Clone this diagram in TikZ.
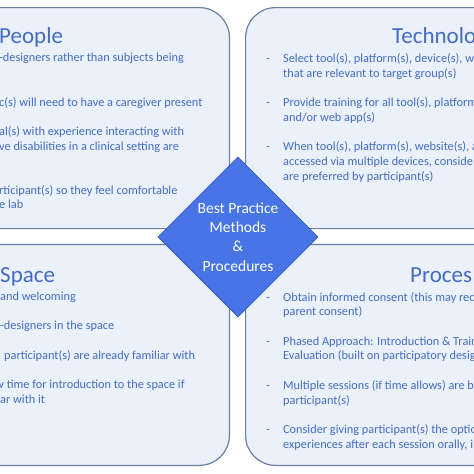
\documentclass[tikz,border=0pt]{standalone}
\usepackage{fontspec}
\setmainfont{Carlito}
\usetikzlibrary{shapes.geometric}

\definecolor{boxfill}{HTML}{EAF1FB}
\definecolor{boxline}{HTML}{6B7FA8}
\definecolor{txtblue}{HTML}{456CC2}
\definecolor{diafill}{HTML}{4875E6}
\definecolor{dialine}{HTML}{3559BD}

\newcommand{\dashmark}{\makebox[17pt][l]{-}}
\newcommand{\dashgap}{\hspace*{17pt}}

\begin{document}
\begin{tikzpicture}[
  x=1pt, y=-1pt,
  panel/.style={draw=boxline, fill=boxfill, line width=1.2pt, rounded corners=30pt,
    minimum width=310pt, minimum height=221pt, inner sep=0pt},
  title/.style={font=\fontsize{23}{28}\selectfont, text=txtblue, inner sep=0pt, anchor=base west},
  body/.style={font=\fontsize{12.3}{14.7}\selectfont, text=txtblue, inner sep=0pt, align=left, anchor=north west},
  hub/.style={diamond, draw=dialine, fill=diafill, line width=0.8pt, minimum width=160pt,
    minimum height=160pt, inner sep=0pt},
  hubtext/.style={font=\fontsize{15.5}{19.3}\selectfont, text=white, align=center, inner sep=0pt}
]
\useasboundingbox (0,0) rectangle (474,474);
\clip (0,0) rectangle (474,474);

% Four panels
\node[panel, anchor=north east] (people) at (230,7) {};
\node[panel, anchor=north west] (tech) at (245,7) {};
\node[panel, anchor=south east] (space) at (230,466) {};
\node[panel, anchor=south west] (process) at (245,466) {};

% Titles
\node[title] (peopletitle) at (-1,43) {People};
\node[title] (techtitle) at (392,43) {Technolo};
\node[title] (spacetitle) at (0,282) {Space};
\node[title] (processtitle) at (410,282) {Proces};

% Panel texts
\node[body] (peopletext) at (-1,53.2) {-designers rather than subjects being\\[29.4pt]
c(s) will need to have a caregiver present\\[14.7pt]
al(s) with experience interacting with\\
ve disabilities in a clinical setting are\\[29.4pt]
rticipant(s) so they feel comfortable\\
e lab};

\node[body] (techtext) at (266,53.2) {\dashmark Select tool(s), platform(s), device(s), w\\
\dashgap that are relevant to target group(s)\\[14.7pt]
\dashmark Provide training for all tool(s), platform\\
\dashgap and/or web app(s)\\[14.7pt]
\dashmark When tool(s), platform(s), website(s), a\\
\dashgap accessed via multiple devices, conside\\
\dashgap are preferred by participant(s)};

\node[body] (spacetext) at (0,291.6) {and welcoming\\[14.7pt]
-designers in the space\\[14.7pt]
\hspace*{4pt}participant(s) are already familiar with\\[14.7pt]
\hspace*{-5pt}w time for introduction to the space if\\
ar with it};

\node[body] (processtext) at (266,292) {\dashmark Obtain informed consent (this may rec\\
\dashgap parent consent)\\[14.7pt]
\dashmark Phased Approach: Introduction \& Train\\
\dashgap Evaluation (built on participatory desig\\[14.7pt]
\dashmark Multiple sessions (if time allows) are b\\
\dashgap participant(s)\\[14.7pt]
\dashmark Consider giving participant(s) the optio\\
\dashgap experiences after each session orally, i};

% Centre diamond
\node[hub] (hub) at (238,237) {};
\node[hubtext] (hubtext) at (hub.center) {Best Practice\\Methods\\\&\\Procedures};

\end{tikzpicture}
\end{document}
